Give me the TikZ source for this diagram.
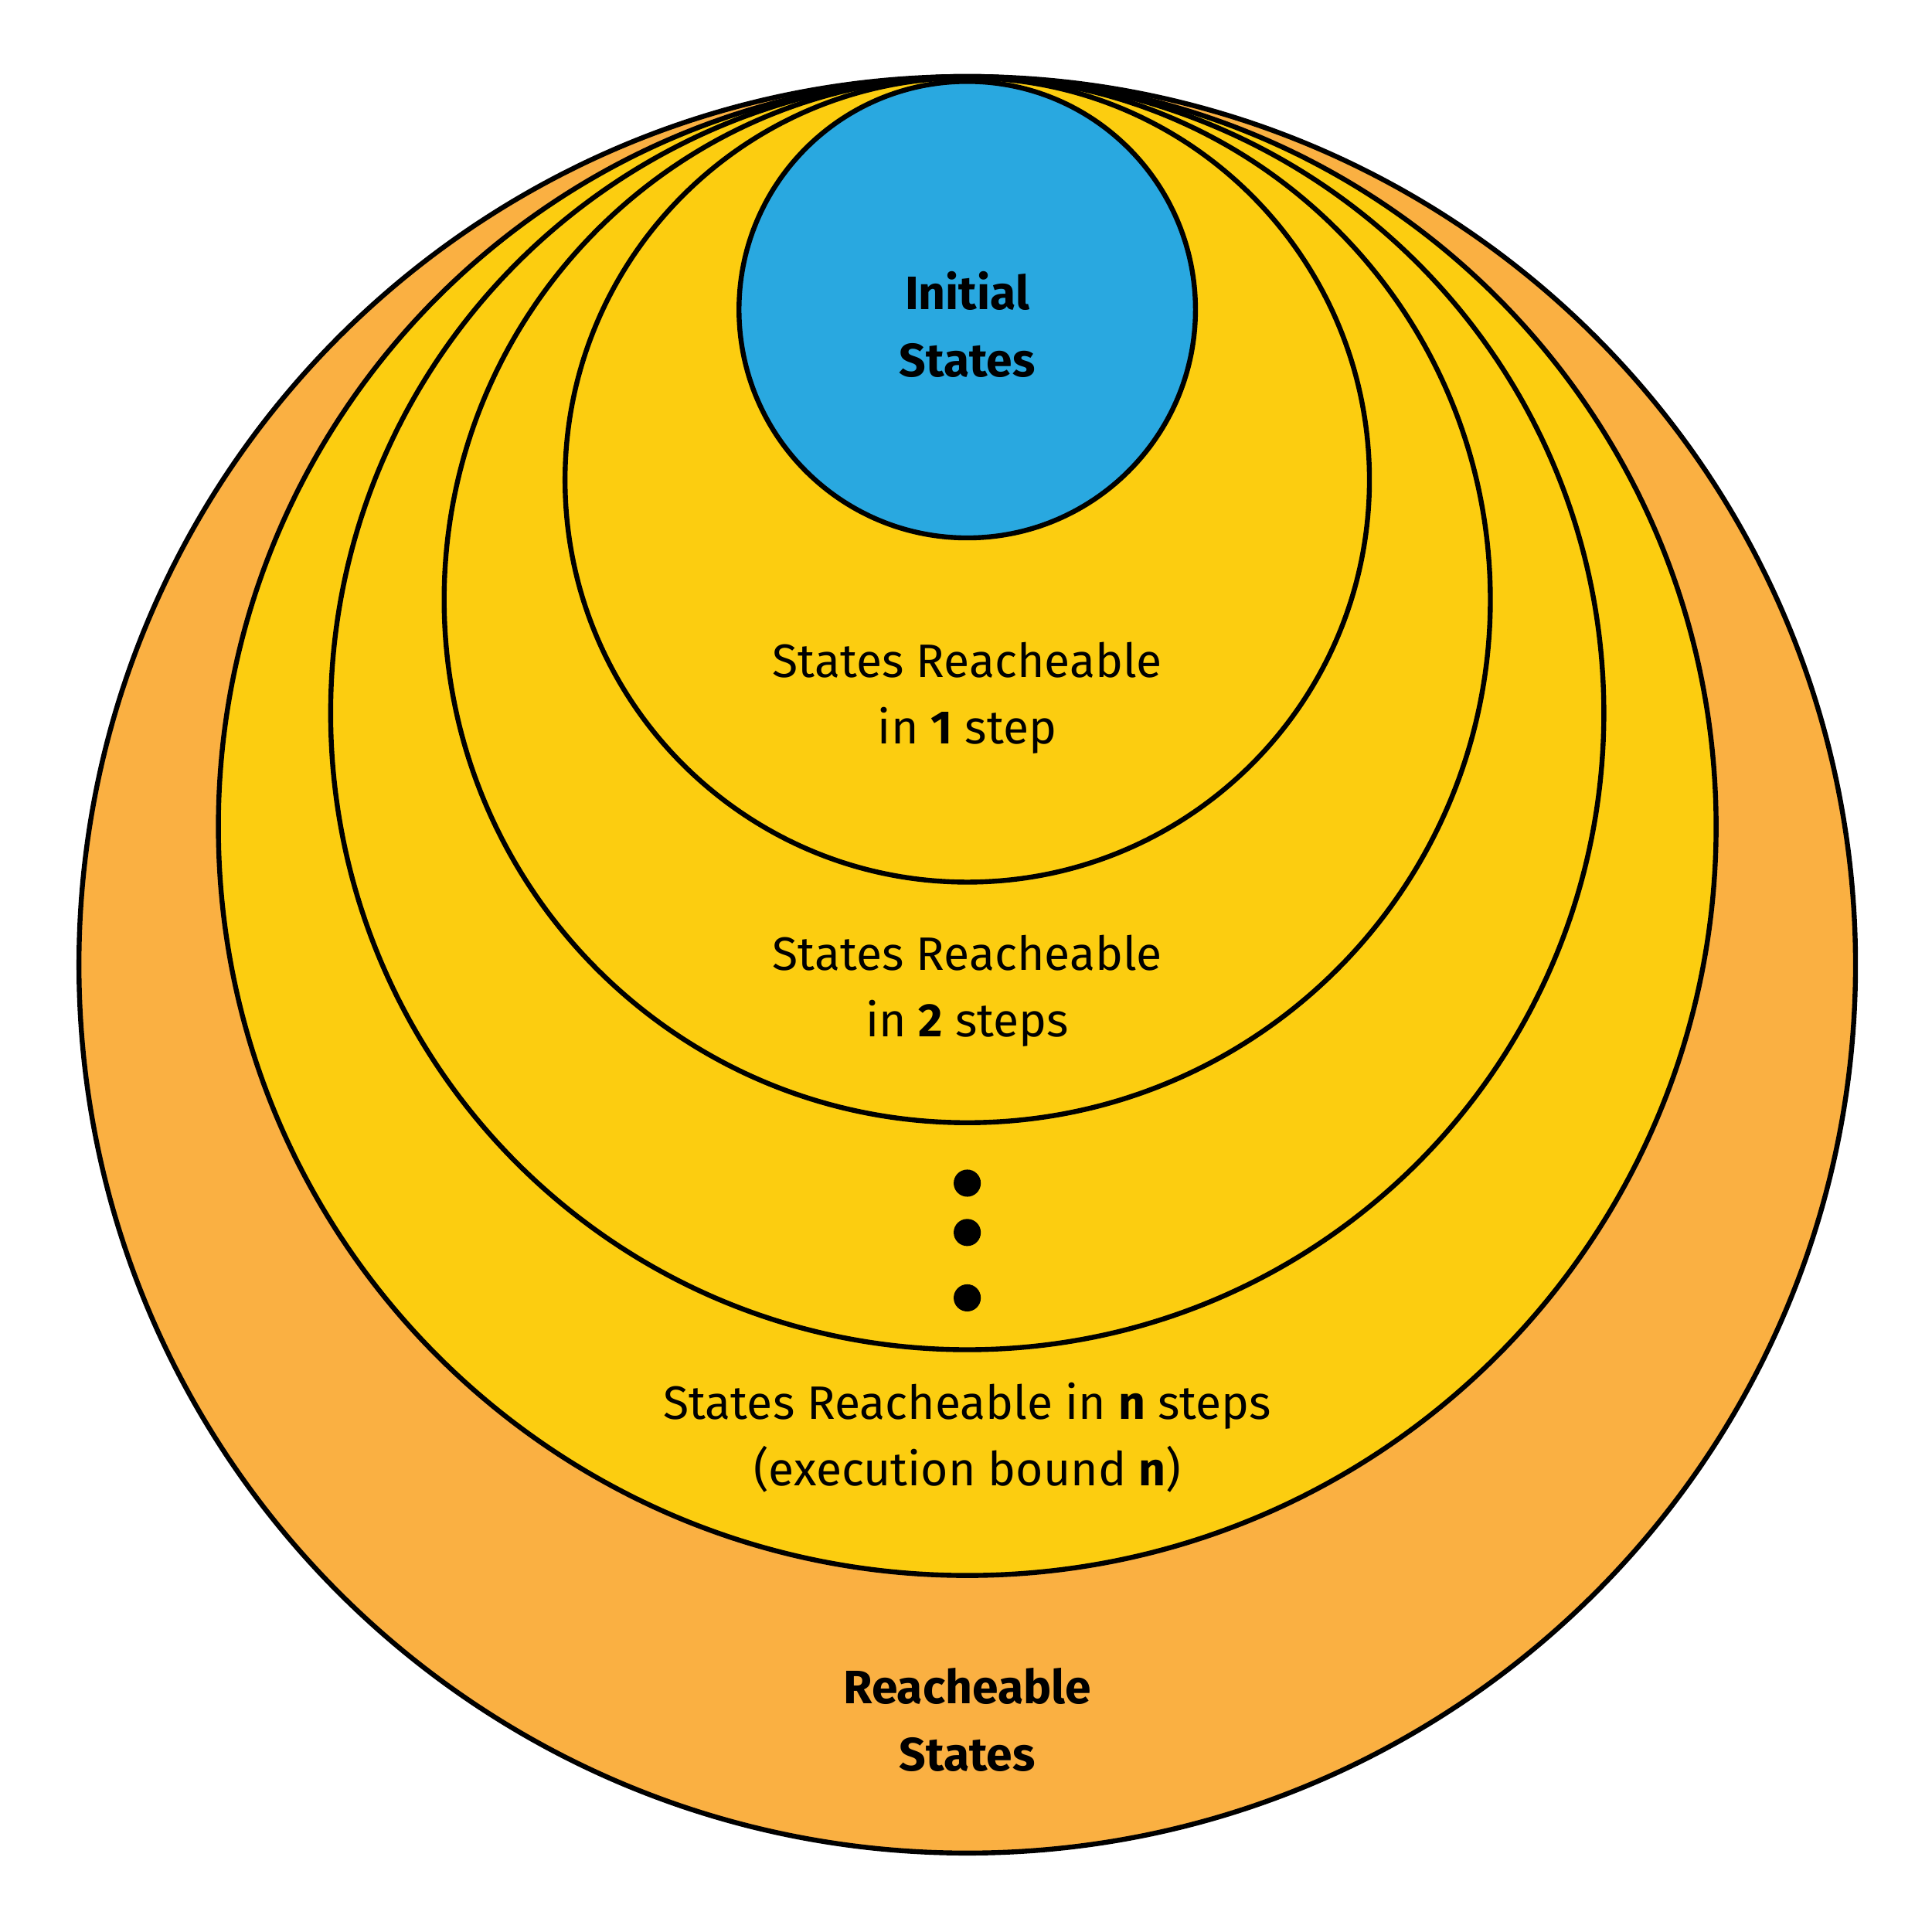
\documentclass[tikz,border=0pt]{standalone}
\usepackage{fontspec}
\setmainfont{Fira Sans}
\usetikzlibrary{shapes.geometric}
\definecolor{reachorange}{HTML}{FAB042}
\definecolor{stepyellow}{HTML}{FCCD10}
\definecolor{initblue}{HTML}{29A8E0}
\tikzstyle{ring} = [draw=black, line width=4pt]
\tikzstyle{label} = [align=center, font=\fontsize{38}{54}\selectfont]

\begin{document}
\begin{tikzpicture}[x=1pt,y=-1pt]
		\useasboundingbox (0,0) rectangle (1566,1566);
		\draw [ring, fill=reachorange] (784,782) circle (720);
		\draw [ring, fill=stepyellow] (784,670) circle (607);
		\draw [ring, fill=stepyellow] (784,578) circle (516);
		\draw [ring, fill=stepyellow] (784,486) circle (424);
		\draw [ring, fill=stepyellow] (784,389) circle (326);
		\draw [ring, fill=initblue] (784,251) circle (185);
		\node [label, font=\fontsize{38}{54}\selectfont\bfseries] (init) at (784,263) {Initial\\States};
		\node [label] (step1) at (784,566) {States Reacheable\\in \textbf{1} step};
		\node [label] (step2) at (784,803) {States Reacheable\\in \textbf{2} steps};
		\node [label] (stepn) at (784,1165) {States Reacheable in \textbf{n} steps\\(execution bound \textbf{n})};
		\node [label, font=\fontsize{38}{54}\selectfont\bfseries] (reach) at (784,1394) {Reacheable\\States};
		\fill (784,959) circle (11);
		\fill (784,999) circle (11);
		\fill (784,1052) circle (11);
	\end{tikzpicture}
\end{document}
